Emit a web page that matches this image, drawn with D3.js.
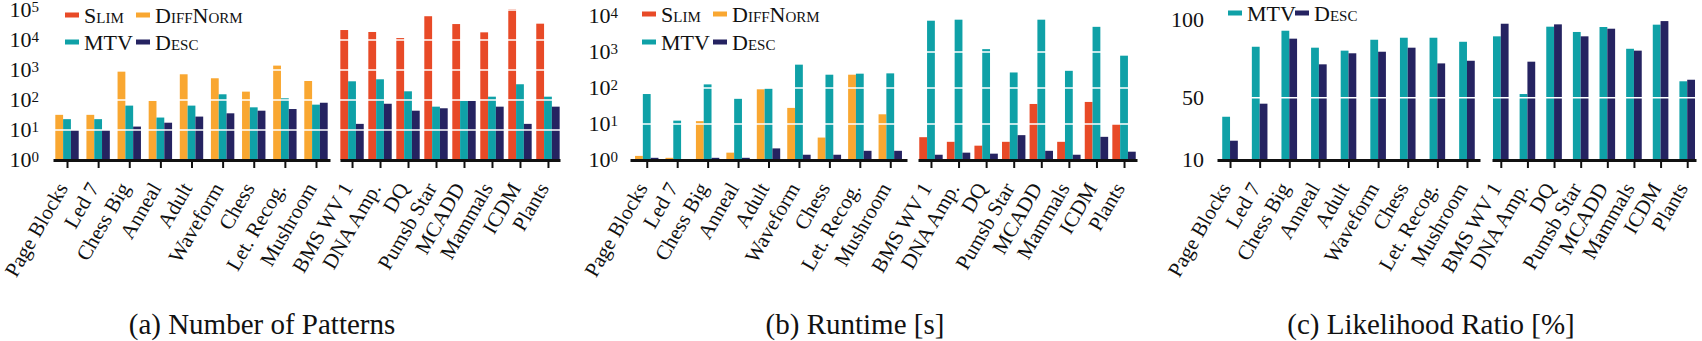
<!DOCTYPE html>
<html>
<head>
<meta charset="utf-8">
<script src="https://cdnjs.cloudflare.com/ajax/libs/d3/7.8.5/d3.min.js"></script>
<style>
  body { margin: 0; background: #fff; }
  svg { display: block; font-family: "Liberation Serif", "Times New Roman", serif; }
  .axis .domain { stroke: #111; stroke-width: 3; }
  .axis .tick line { stroke: #111; stroke-width: 2; }
  .cat { font-size: 21px; fill: #111; }
  .ylab { font-size: 22px; fill: #111; }
  .legend text { font-size: 22px; font-variant: small-caps; fill: #111; }
  .caption { font-size: 29px; fill: #111; }
</style>
</head>
<body>
<svg width="1702" height="341"></svg>
<script>
// Datasets, split in the two groups shown in every panel
const smallSets = ["Page Blocks", "Led 7", "Chess Big", "Anneal", "Adult", "Waveform", "Chess", "Let. Recog.", "Mushroom"];
const largeSets = ["BMS WV 1", "DNA Amp.", "DQ", "Pumsb Star", "MCADD", "Mammals", "ICDM", "Plants"];

// (a) Number of patterns
const patternsDiffNorm = [32, 32, 880, 93, 720, 530, 190, 1400, 430];
const patternsMtvSmall = [23, 23, 65, 26, 65, 155, 57, 114, 70];
const patternsDescSmall = [10, 10, 13, 17.5, 28, 36, 44, 50, 81];
const patternsSlim = [21500, 18500, 11600, 62000, 34000, 18000, 108000, 35000];
const patternsMtvLarge = [420, 490, 195, 60, 93, 129, 335, 129];
const patternsDescLarge = [16, 75, 44, 53, 93, 60, 16, 60];

// (b) Runtime in seconds
const runtimeDiffNorm = [1.3, 1.15, 12, 1.6, 92, 28, 4.2, 234, 18.6];
const runtimeMtvSmall = [68, 12.4, 126, 50, 98, 445, 234, 250, 255];
const runtimeDescSmall = [1.15, 1.05, 1.15, 1.15, 2.1, 1.4, 1.4, 1.8, 1.8];
const runtimeSlim = [4.3, 3.2, 2.5, 3.2, 36, 3.2, 41, 10];
const runtimeMtvLarge = [7400, 7900, 1200, 270, 7900, 300, 5000, 790];
const runtimeDescLarge = [1.4, 1.6, 1.5, 4.9, 1.8, 1.4, 4.4, 1.7];

// (c) Likelihood ratio in percent
const likelihoodMtvSmall = [37.8, 82.8, 93.1, 82.2, 80.3, 87.3, 88.6, 88.6, 86];
const likelihoodDescSmall = [22.4, 46.2, 88, 71.5, 78.6, 79.6, 82.2, 72.1, 73.8];
const likelihoodMtvLarge = [89.5, 52.4, 95.7, 92.3, 95.5, 81.5, 97, 60.6];
const likelihoodDescLarge = [97.6, 73.2, 97.2, 89.5, 94.4, 80.3, 99.3, 61.6];

const logTicksA = [1, 10, 100, 1000, 10000, 100000];
const logTicksB = [1, 10, 100, 1000, 10000];
const linTicksC = [10, 50, 100];

const colors = { Slim: "#e84a27", DiffNorm: "#f9a731", MTV: "#0fa1a7", Desc: "#252361" };

const svg = d3.select("svg");
const baseY = 160;
const barW = 7.8;

const panels = [
  {
    y: d3.scaleLog().domain([1, 1e5]).range([baseY, 10]),
    ticks: logTicksA, log: true, labelRight: 39,
    groups: [
      { cats: smallSets, range: [53, 330], padding: 0.45,
        series: [["DiffNorm", patternsDiffNorm], ["MTV", patternsMtvSmall], ["Desc", patternsDescSmall]] },
      { cats: largeSets, range: [340, 560], padding: 0.43,
        series: [["Slim", patternsSlim], ["MTV", patternsMtvLarge], ["Desc", patternsDescLarge]] }
    ],
    legend: [["Slim", 65, 15], ["DiffNorm", 136, 15], ["MTV", 65, 42], ["Desc", 136, 42]],
    caption: ["(a) Number of Patterns", 262]
  },
  {
    y: d3.scaleLog().domain([1, 1e4]).range([baseY, 16]),
    ticks: logTicksB, log: true, labelRight: 618,
    groups: [
      { cats: smallSets, range: [630, 907], padding: 0.55,
        series: [["DiffNorm", runtimeDiffNorm], ["MTV", runtimeMtvSmall], ["Desc", runtimeDescSmall]] },
      { cats: largeSets, range: [918, 1137], padding: 0.47,
        series: [["Slim", runtimeSlim], ["MTV", runtimeMtvLarge], ["Desc", runtimeDescLarge]] }
    ],
    legend: [["Slim", 642, 14], ["DiffNorm", 713, 14], ["MTV", 642, 42], ["Desc", 713, 42]],
    caption: ["(b) Runtime [s]", 855]
  },
  {
    y: d3.scaleLinear().domain([10, 100]).range([baseY, 20]),
    ticks: linTicksC, log: false, labelRight: 1204,
    groups: [
      { cats: smallSets, range: [1217, 1480], padding: 0.44,
        series: [["MTV", likelihoodMtvSmall], ["Desc", likelihoodDescSmall]] },
      { cats: largeSets, range: [1492, 1696], padding: 0.33,
        series: [["MTV", likelihoodMtvLarge], ["Desc", likelihoodDescLarge]] }
    ],
    legend: [["MTV", 1228, 13], ["Desc", 1295, 13]],
    caption: ["(c) Likelihood Ratio [%]", 1431]
  }
];

panels.forEach(p => {
  const g = svg.append("g");

  // y tick labels
  const yl = g.selectAll(".ylab").data(p.ticks).enter()
    .append("text")
    .attr("class", "ylab")
    .attr("x", p.labelRight)
    .attr("y", d => p.y(d))
    .attr("dy", "0.32em")
    .attr("text-anchor", "end");
  if (p.log) {
    yl.text("10").append("tspan")
      .attr("dy", "-0.35em")
      .style("font-size", "15px")
      .text(d => Math.round(Math.log10(d)));
  } else {
    yl.text(d => d);
  }

  p.groups.forEach(grp => {
    const x = d3.scalePoint().domain(grp.cats).range(grp.range).padding(grp.padding);
    const k = grp.series.length;

    // bars
    grp.series.forEach(([key, vals], i) => {
      g.selectAll(null).data(vals.map((v, j) => ({ cat: grp.cats[j], v })))
        .enter().append("rect")
        .attr("x", d => x(d.cat) + (i - (k - 1) / 2) * barW - barW / 2)
        .attr("width", barW)
        .attr("y", d => p.y(d.v))
        .attr("height", d => baseY - p.y(d.v))
        .attr("fill", colors[key]);
    });

    // white grid lines over the bars
    g.selectAll(null).data(p.ticks.slice(1)).enter()
      .append("line")
      .attr("x1", grp.range[0]).attr("x2", grp.range[1])
      .attr("y1", d => p.y(d)).attr("y2", d => p.y(d))
      .attr("stroke", "#fff")
      .attr("stroke-width", 1.5);

    // x axis with rotated dataset names
    const ax = g.append("g")
      .attr("class", "axis")
      .attr("transform", `translate(0,${baseY})`)
      .call(d3.axisBottom(x).tickSize(8).tickSizeOuter(0));
    ax.selectAll(".tick text")
      .attr("class", "cat")
      .attr("x", null).attr("y", null).attr("dy", null)
      .attr("transform", "translate(1,28) rotate(-60)")
      .style("text-anchor", "end");
    ax.attr("font-family", null).attr("font-size", null);
  });

  // legend
  const lg = g.append("g").attr("class", "legend");
  p.legend.forEach(([key, lx, ly]) => {
    lg.append("rect")
      .attr("x", lx).attr("y", ly - 2.5)
      .attr("width", 14).attr("height", 5)
      .attr("fill", colors[key]);
    lg.append("text")
      .attr("x", lx + 19).attr("y", ly)
      .attr("dy", "0.35em")
      .text(key);
  });

  // caption
  g.append("text")
    .attr("class", "caption")
    .attr("x", p.caption[1])
    .attr("y", 334)
    .attr("text-anchor", "middle")
    .text(p.caption[0]);
});
</script>
</body>
</html>
